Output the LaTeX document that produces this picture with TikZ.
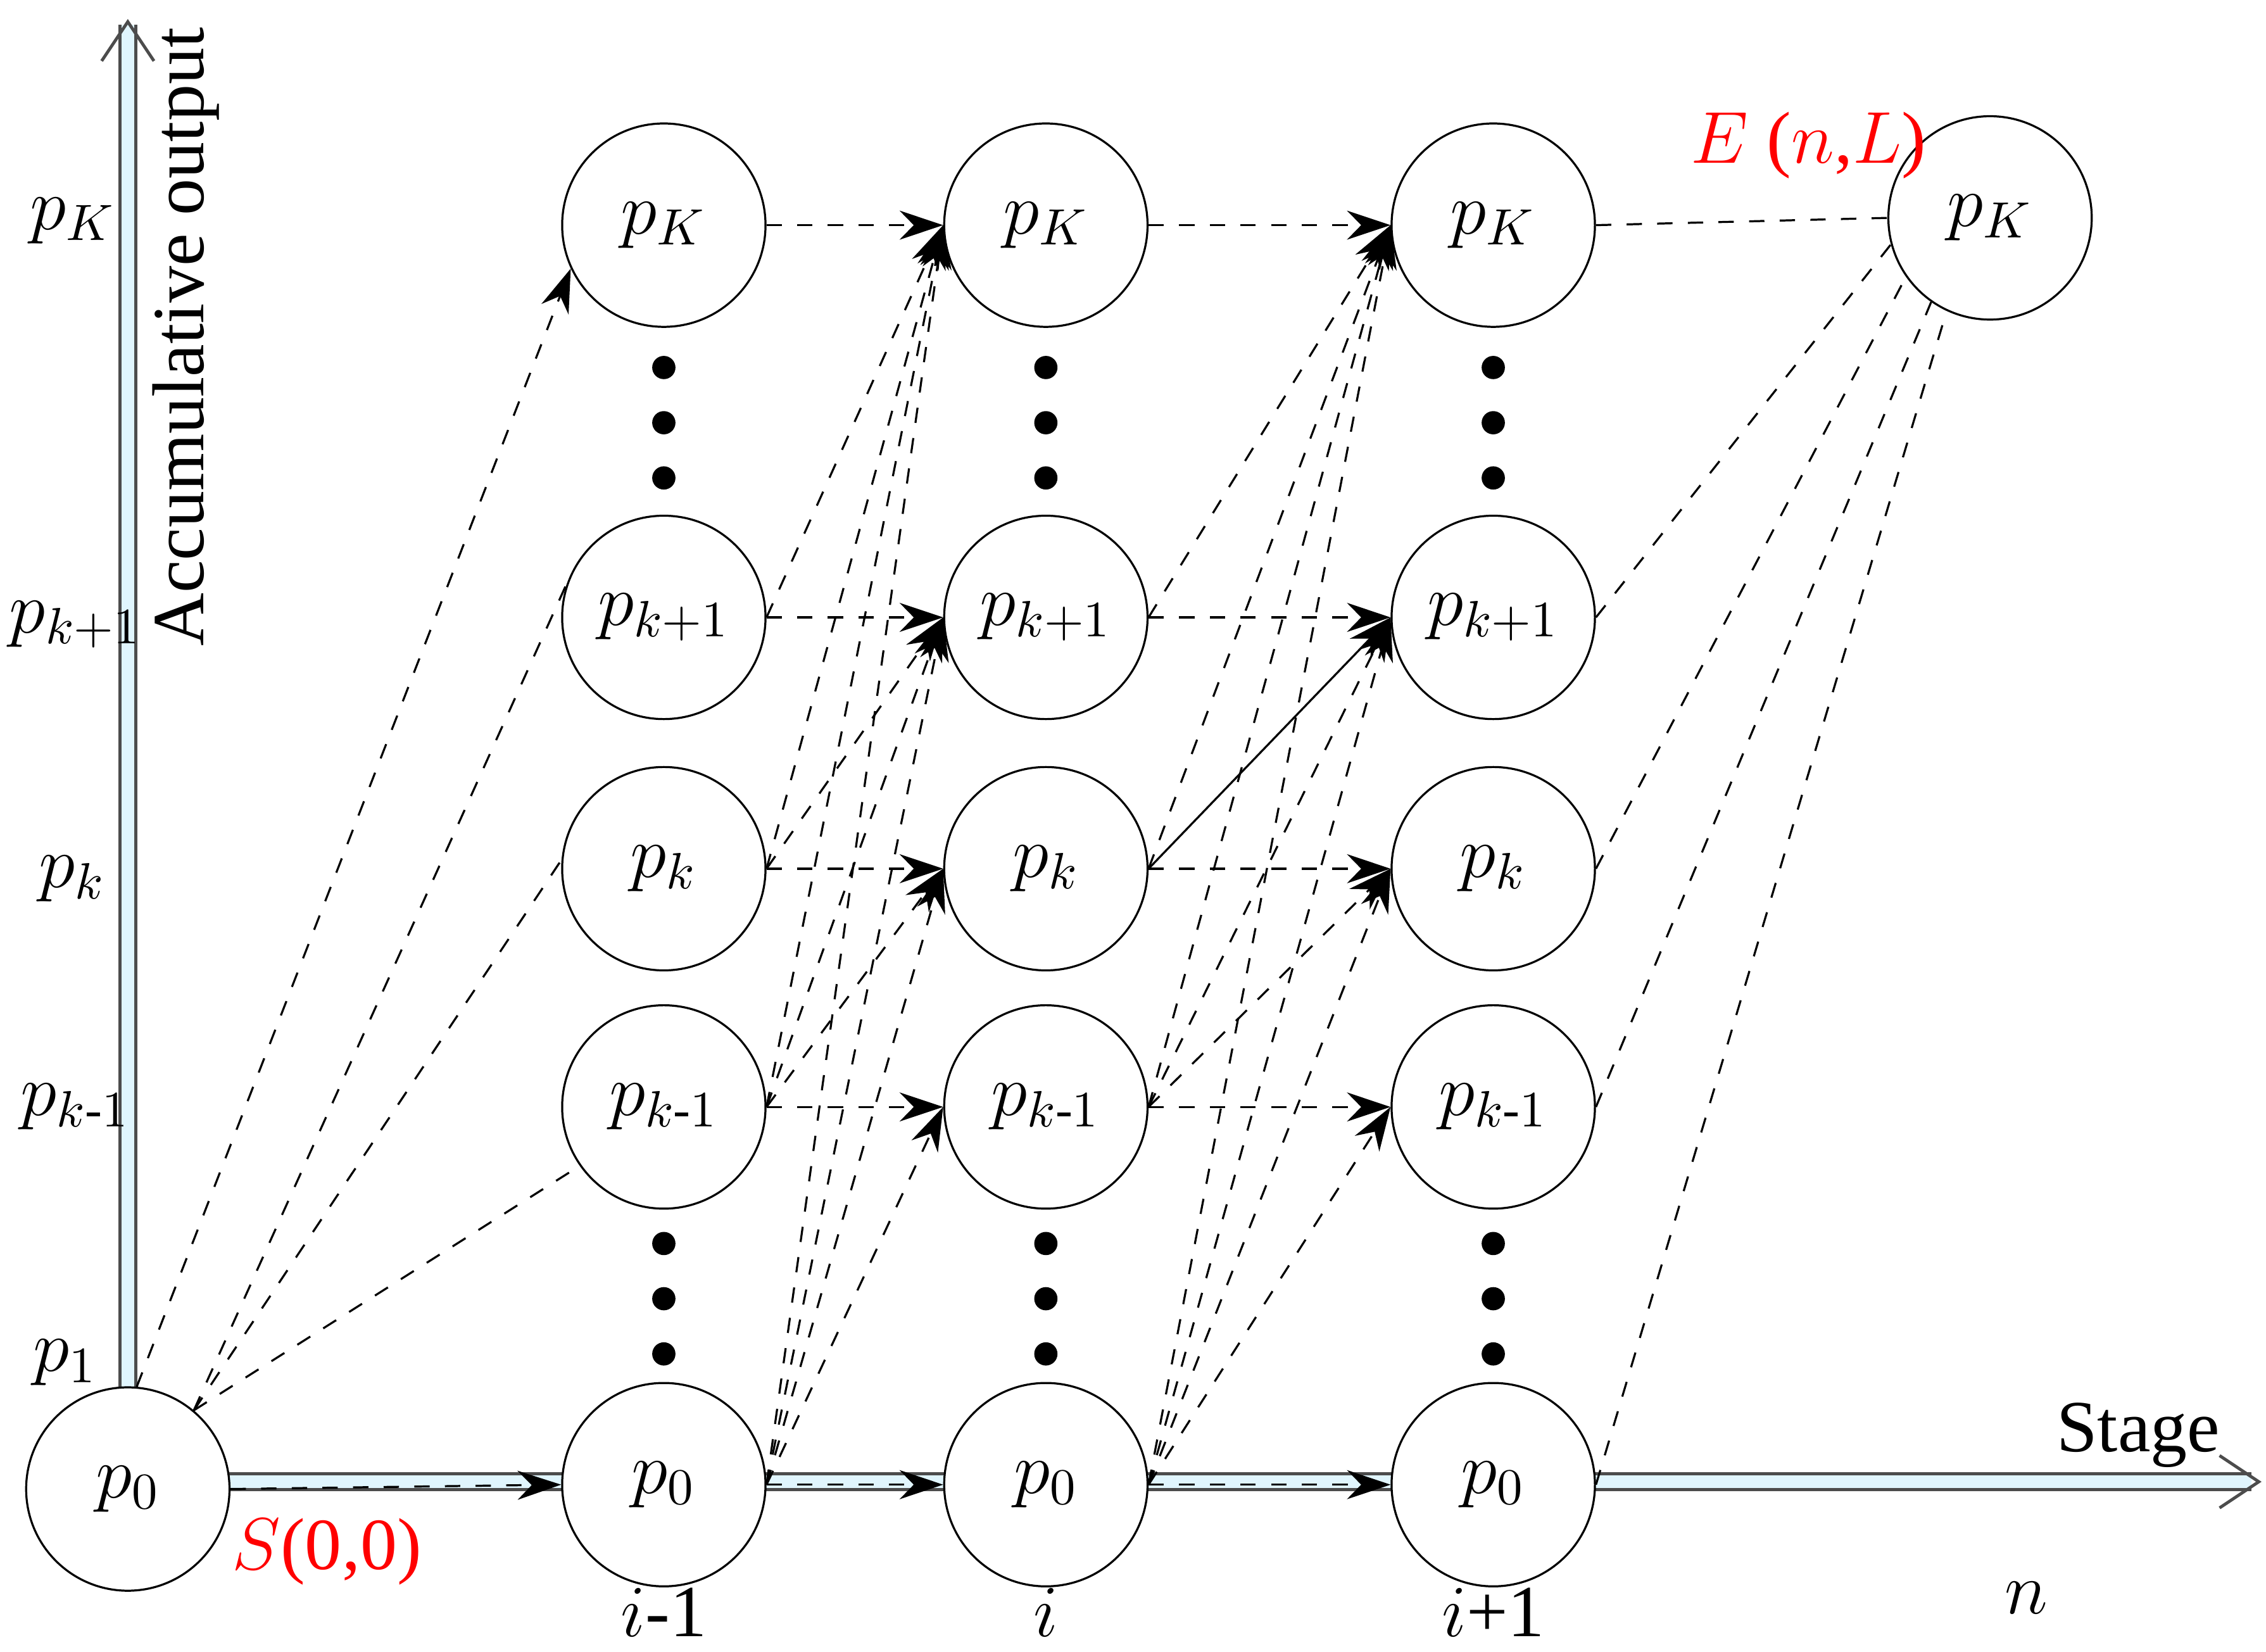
\documentclass[tikz,border=0pt]{standalone}
\usepackage{amsmath}
\usepackage{fontspec}
\setmainfont{Liberation Serif}
\usetikzlibrary{arrows.meta}
\begin{document}
\begin{tikzpicture}[
    state/.style={circle, draw, fill=white, minimum size=1.4cm, inner sep=0pt, font=\Large},
    link/.style={dashed, thin},
    go/.style={dashed, thin, -{Stealth[length=3mm,width=2mm]}},
    axis/.style={draw=black!70, double=cyan!12, double distance=2.5pt, line width=0.6pt},
    dot/.style={circle, fill, inner sep=0pt, minimum size=0.16cm},
    lab/.style={font=\Large}
  ]
  \useasboundingbox (0,0) rectangle (15.6,11.37);
  % axes
  \coordinate (origin) at (0.88,1.8);
  \coordinate (ytop) at (0.88,11.2);
  \coordinate (xstart) at (1.58,1.17);
  \coordinate (xend) at (15.5,1.17);
  \draw[axis] (origin) -- (ytop);
  \draw[axis] (xstart) -- (xend);
  \draw[black!70, line width=0.6pt] (0.70,10.95) -- (0.88,11.22) -- (1.06,10.95);
  \draw[black!70, line width=0.6pt] (15.28,1.35) -- (15.55,1.17) -- (15.28,0.99);

  % vertices
  \node[state] (s) at (0.88,1.12) {$p_0$};
  \node[state] (aK) at (4.57,9.82) {$p_K$};
  \node[state] (a2) at (4.57,7.12) {$p_{k+1}$};
  \node[state] (a1) at (4.57,5.39) {$p_k$};
  \node[state] (a0) at (4.57,3.75) {$p_{k\text{-}1}$};
  \node[state] (aZ) at (4.57,1.15) {$p_0$};
  \node[state] (bK) at (7.20,9.82) {$p_K$};
  \node[state] (b2) at (7.20,7.12) {$p_{k+1}$};
  \node[state] (b1) at (7.20,5.39) {$p_k$};
  \node[state] (b0) at (7.20,3.75) {$p_{k\text{-}1}$};
  \node[state] (bZ) at (7.20,1.15) {$p_0$};
  \node[state] (cK) at (10.28,9.82) {$p_K$};
  \node[state] (c2) at (10.28,7.12) {$p_{k+1}$};
  \node[state] (c1) at (10.28,5.39) {$p_k$};
  \node[state] (c0) at (10.28,3.75) {$p_{k\text{-}1}$};
  \node[state] (cZ) at (10.28,1.15) {$p_0$};
  \node[state] (e) at (13.70,9.87) {$p_K$};

  % dots
  \foreach \x in {4.57,7.20,10.28} {
    \foreach \y in {8.84,8.46,8.08,2.81,2.43,2.05}
      \node[dot] at (\x,\y) {};
  }

  % from the start
  \draw[go] (s.85) -- (aK.205);
  \draw[link] (s.50) -- (a2.160);
  \draw[link] (s.50) -- (a1.175);
  \draw[link] (s.50) -- (a0.215);
  \draw[go] (s.east) -- (aZ.west);

  % column i-1 to i
  \draw[go] (aK.east) -- (bK.west);
  \draw[go] (a2.east) -- (bK.west);
  \draw[go] (a2.east) -- (b2.west);
  \foreach \t in {bK,b2,b1} \draw[go] (a1.east) -- (\t.west);
  \foreach \t in {bK,b2,b1,b0} \draw[go] (a0.east) -- (\t.west);
  \foreach \t in {bK,b2,b1,b0,bZ} \draw[go] (aZ.east) -- (\t.west);

  % column i to i+1
  \draw[go] (bK.east) -- (cK.west);
  \draw[go] (b2.east) -- (cK.west);
  \draw[go] (b2.east) -- (c2.west);
  \draw[go] (b1.east) -- (cK.west);
  \draw[thin, -{Stealth[length=3mm,width=2mm]}] (b1.east) -- (c2.west);
  \draw[go] (b1.east) -- (c1.west);
  \foreach \t in {cK,c2,c1,c0} \draw[go] (b0.east) -- (\t.west);
  \foreach \t in {cK,c2,c1,c0,cZ} \draw[go] (bZ.east) -- (\t.west);

  % to the end
  \draw[link] (cK.east) -- (e.west);
  \draw[link] (c2.east) -- (e.195);
  \draw[link] (c1.east) -- (e.215);
  \draw[link] (c0.east) -- (e.235);
  \draw[link] (cZ.east) -- (e.245);

  % labels
  \node[lab] (lK) at (0.50,9.85) {$p_K$};
  \node[lab] (l2) at (0.52,7.07) {$p_{k+1}$};
  \node[lab] (l1) at (0.50,5.32) {$p_k$};
  \node[lab] (l0) at (0.52,3.75) {$p_{k\text{-}1}$};
  \node[lab] (l00) at (0.45,1.99) {$p_1$};
  \node[lab, rotate=90] (ylab) at (1.28,9.05) {Accumulative output};
  \node[lab] (xlab) at (14.72,1.49) {Stage};
  \node[lab] (n) at (13.95,0.37) {$n$};
  \node[lab] (ia) at (4.57,0.27) {$i$-1};
  \node[lab] (ib) at (7.20,0.27) {$i$};
  \node[lab] (ic) at (10.28,0.27) {$i$+1};
  \node[lab, red] (S) at (2.25,0.69) {$S$(0,0)};
  \node[lab, red] (E) at (12.45,10.37) {$E$ ($n$,$L$)};
\end{tikzpicture}
\end{document}
